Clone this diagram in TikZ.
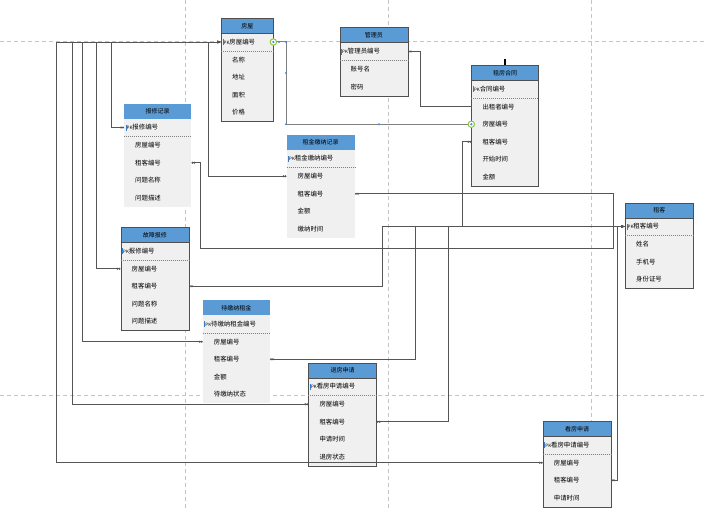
\documentclass[tikz,border=0pt]{standalone}
\usepackage{fontspec}
\setmainfont{Noto Sans CJK SC}
\usepackage{tikz}
\usetikzlibrary{arrows.meta}
\definecolor{headblue}{HTML}{5B9BD5}
\definecolor{bodygray}{HTML}{F0F0F0}
\definecolor{framegray}{HTML}{4F4F4F}
\definecolor{wiregray}{HTML}{555555}
\definecolor{pagegray}{HTML}{C4C4C4}
\definecolor{keyblue}{HTML}{3A7CC2}
\definecolor{handleblue}{HTML}{4A86E8}
\definecolor{pickgreen}{HTML}{8CC63E}
\newcommand{\pkey}[1]{\textcolor{keyblue}{\rule[-1pt]{1pt}{6pt}}{\fontsize{4.5}{5}\selectfont PK}#1}
\tikzset{tbl/.style={draw=framegray,fill=bodygray,rectangle,line width=0.8pt,anchor=north west,inner sep=0pt}}
\tikzset{tblflat/.style={fill=bodygray,rectangle,anchor=north west,inner sep=0pt}}
\tikzset{head/.style={draw=framegray,fill=headblue,rectangle,line width=0.8pt,anchor=north west,inner sep=0pt,minimum height=15pt,font=\fontsize{6}{7}\selectfont}}
\tikzset{headflat/.style={fill=headblue,rectangle,anchor=north west,inner sep=0pt,minimum height=15pt,font=\fontsize{6}{7}\selectfont}}
\tikzset{pkrow/.style={anchor=west,inner xsep=1.5pt,inner ysep=0pt,minimum height=17.5pt,text width=#1,align=left,font=\fontsize{6.4}{7}\selectfont},pkrow/.default=65pt}
\tikzset{row/.style={anchor=west,inner xsep=11pt,inner ysep=0pt,minimum height=17.5pt,text width=#1,align=left,font=\fontsize{6.4}{7}\selectfont},row/.default=46pt}
\tikzset{sepline/.style={draw=gray,dash pattern=on 1pt off 1pt,line width=0.5pt}}
\tikzset{pageline/.style={draw=pagegray,dash pattern=on 4pt off 3pt,line width=0.6pt}}
\tikzset{fk/.style={draw=wiregray,line width=0.7pt,{Circle[open,length=2pt,width=2pt]Circle[open,length=2pt,width=2pt]}-{Latex[length=3.5pt,width=3pt]}}}
\tikzset{fkbar/.style={draw=wiregray,line width=0.7pt,{Circle[open,length=2pt,width=2pt]Circle[open,length=2pt,width=2pt]}-{Bar[width=3.5pt]}}}
\tikzset{pickline/.style={draw=gray,line width=1pt}}

\begin{document}
\begin{tikzpicture}[x=1pt,y=-1pt]
    \useasboundingbox (0,0) rectangle (704,511);
    \fill[white] (0,0) rectangle (704,511);

    \draw[pageline] (0,41.5) -- (704,41.5);
    \draw[pageline] (0,395.5) -- (704,395.5);
    \draw[pageline] (185,0) -- (185,511);
    \draw[pageline] (388,0) -- (388,511);
    \draw[pageline] (591.5,0) -- (591.5,511);

    \node[tbl,minimum width=52pt,minimum height=103pt] (fw) at (221,18) {};
    \node[head,minimum width=52pt] (fw-h) at (221,18) {房屋};
    \node[pkrow=49pt] (fw-pk) at (221,42) {\pkey{房屋编号}};
    \node[row=30pt] (fw-mc) at (221,59.75) {名称};
    \node[row=30pt] (fw-dz) at (221,77.25) {地址};
    \node[row=30pt] (fw-mj) at (221,94.75) {面积};
    \node[row=30pt] (fw-jg) at (221,112.25) {价格};

    \node[tbl,minimum width=68pt,minimum height=68pt] (gl) at (339.5,27.5) {};
    \node[head,minimum width=68pt] (gl-h) at (339.5,27.5) {管理员};
    \node[pkrow] (gl-pk) at (339.5,51.5) {\pkey{管理员编号}};
    \node[row] (gl-zh) at (339.5,69.25) {账号名};
    \node[row] (gl-mm) at (339.5,86.75) {密码};

    \node[tbl,minimum width=67pt,minimum height=120.5pt] (ht) at (471.3,65) {};
    \node[head,minimum width=67pt] (ht-h) at (471.3,65) {租房合同};
    \node[pkrow=64pt] (ht-pk) at (471.3,89) {\pkey{合同编号}};
    \node[row=45pt] (ht-cz) at (471.3,106.75) {出租者编号};
    \node[row=45pt] (ht-fw) at (471.3,124.25) {房屋编号};
    \node[row=45pt] (ht-zk) at (471.3,141.75) {租客编号};
    \node[row=45pt] (ht-ks) at (471.3,159.25) {开始时间};
    \node[row=45pt] (ht-je) at (471.3,176.75) {金额};

    \node[tblflat,minimum width=67pt,minimum height=103pt] (bx) at (124,103.5) {};
    \node[headflat,minimum width=67pt] (bx-h) at (124,103.5) {报修记录};
    \node[pkrow=64pt] (bx-pk) at (124,127.5) {\pkey{报修编号}};
    \node[row=45pt] (bx-fw) at (124,145.25) {房屋编号};
    \node[row=45pt] (bx-zk) at (124,162.75) {租客编号};
    \node[row=45pt] (bx-mc) at (124,180.25) {问题名称};
    \node[row=45pt] (bx-ms) at (124,197.75) {问题描述};

    \node[tblflat,minimum width=68pt,minimum height=103pt] (jn) at (286.5,134.5) {};
    \node[headflat,minimum width=68pt] (jn-h) at (286.5,134.5) {租金缴纳记录};
    \node[pkrow] (jn-pk) at (286.5,158.5) {\pkey{租金缴纳编号}};
    \node[row] (jn-fw) at (286.5,176.25) {房屋编号};
    \node[row] (jn-zk) at (286.5,193.75) {租客编号};
    \node[row] (jn-je) at (286.5,211.25) {金额};
    \node[row] (jn-sj) at (286.5,228.75) {缴纳时间};

    \node[tbl,minimum width=68pt,minimum height=103pt] (gz) at (120.5,227) {};
    \node[head,minimum width=68pt] (gz-h) at (120.5,227) {故障报修};
    \node[pkrow] (gz-pk) at (120.5,251) {\pkey{报修编号}};
    \node[row] (gz-fw) at (120.5,268.75) {房屋编号};
    \node[row] (gz-zk) at (120.5,286.25) {租客编号};
    \node[row] (gz-mc) at (120.5,303.75) {问题名称};
    \node[row] (gz-ms) at (120.5,321.25) {问题描述};

    \node[tblflat,minimum width=67pt,minimum height=103pt] (dj) at (202.7,300) {};
    \node[headflat,minimum width=67pt] (dj-h) at (202.7,300) {待缴纳租金};
    \node[pkrow=64pt] (dj-pk) at (202.7,324) {\pkey{待缴纳租金编号}};
    \node[row=45pt] (dj-fw) at (202.7,341.75) {房屋编号};
    \node[row=45pt] (dj-zk) at (202.7,359.25) {租客编号};
    \node[row=45pt] (dj-je) at (202.7,376.75) {金额};
    \node[row=45pt] (dj-zt) at (202.7,394.25) {待缴纳状态};

    \node[tbl,minimum width=68pt,minimum height=103pt] (tf) at (308.3,362.5) {};
    \node[head,minimum width=68pt] (tf-h) at (308.3,362.5) {退房申请};
    \node[pkrow] (tf-pk) at (308.3,386.5) {\pkey{看房申请编号}};
    \node[row] (tf-fw) at (308.3,404.25) {房屋编号};
    \node[row] (tf-zk) at (308.3,421.75) {租客编号};
    \node[row] (tf-sj) at (308.3,439.25) {申请时间};
    \node[row] (tf-zt) at (308.3,456.75) {退房状态};

    \node[tbl,minimum width=68pt,minimum height=85.5pt] (kf) at (542.7,421) {};
    \node[head,minimum width=68pt] (kf-h) at (542.7,421) {看房申请};
    \node[pkrow] (kf-pk) at (542.7,445) {\pkey{看房申请编号}};
    \node[row] (kf-fw) at (542.7,462.75) {房屋编号};
    \node[row] (kf-zk) at (542.7,480.25) {租客编号};
    \node[row] (kf-sj) at (542.7,497.75) {申请时间};

    \node[tbl,minimum width=68pt,minimum height=85.5pt] (zk) at (625,202.5) {};
    \node[head,minimum width=68pt] (zk-h) at (625,202.5) {租客};
    \node[pkrow] (zk-pk) at (625,226.5) {\pkey{租客编号}};
    \node[row] (zk-xm) at (625,244.25) {姓名};
    \node[row] (zk-sj) at (625,261.75) {手机号};
    \node[row] (zk-sf) at (625,279.25) {身份证号};

    \draw[sepline] (fw-pk.south west) -- (fw-pk.south east);
    \draw[sepline] (gl-pk.south west) -- (gl-pk.south east);
    \draw[sepline] (ht-pk.south west) -- (ht-pk.south east);
    \draw[sepline] (bx-pk.south west) -- (bx-pk.south east);
    \draw[sepline] (jn-pk.south west) -- (jn-pk.south east);
    \draw[sepline] (gz-pk.south west) -- (gz-pk.south east);
    \draw[sepline] (dj-pk.south west) -- (dj-pk.south east);
    \draw[sepline] (tf-pk.south west) -- (tf-pk.south east);
    \draw[sepline] (kf-pk.south west) -- (kf-pk.south east);
    \draw[sepline] (zk-pk.south west) -- (zk-pk.south east);

    \draw[fk] (bx-pk.west) -| (111,42) -- (fw-pk.west);
    \draw[fk] (jn-fw.west) -| (208,42) -- (fw-pk.west);
    \draw[fk] (gz-fw.west) -| (96,42) -- (fw-pk.west);
    \draw[fk] (dj-fw.west) -| (82,42) -- (fw-pk.west);
    \draw[fk] (tf-fw.west) -| (72,42) -- (fw-pk.west);
    \draw[fk] (kf-fw.west) -| (56,42) -- (fw-pk.west);

    \draw[fk] (ht-zk.west) -| (462,226.5) -- (zk-pk.west);
    \draw[fk] (jn-zk.east) -| (613,226.5) -- (zk-pk.west);
    \draw[fk] (bx-zk.east) -| (200,248) -| (613,226.5) -- (zk-pk.west);
    \draw[fk] (gz-zk.east) -| (382,226.5) -- (zk-pk.west);
    \draw[fk] (dj-zk.east) -| (415,226.5) -- (zk-pk.west);
    \draw[fk] (tf-zk.east) -| (448,226.5) -- (zk-pk.west);
    \draw[fk] (kf-zk.east) -| (617,226.5) -- (zk-pk.west);

    \draw[fkbar] (gl-pk.east) -| (420,106.75) -- (ht-cz.west);

    \draw[pickline] (fw-pk.east) -| (286,124.25) -- (ht-fw.west);
    \draw[pickgreen,line width=1pt,fill=white] (fw-pk.east) circle (3.2);
    \fill[handleblue] (fw-pk.east) circle (1.3);
    \draw[pickgreen,line width=1pt,fill=white] (ht-fw.west) circle (3.2);
    \fill[handleblue] (ht-fw.west) circle (1.3);
    \fill[handleblue] (279,42) circle (1.2);
    \fill[handleblue] (286,42) circle (1.2);
    \fill[handleblue] (286,73) circle (1.2);
    \fill[handleblue] (286,124.25) circle (1.2);
    \fill[handleblue] (379,124.25) circle (1.2);

    \draw[line width=1.6pt] (ht-h.north) -- ++(0,-6);
\end{tikzpicture}
\end{document}
